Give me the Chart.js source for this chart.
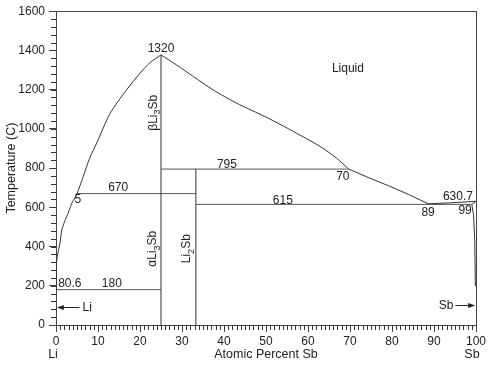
<!DOCTYPE html>
<html>
<head>
<meta charset="utf-8">
<script src="https://cdn.jsdelivr.net/npm/chart.js@4.4.1/dist/chart.umd.min.js"></script>
<style>
  html, body { margin: 0; padding: 0; background: #fff; }
  canvas { display: block; }
</style>
</head>
<body>
<canvas id="c" width="492" height="367"></canvas>
<script>
// ---- Data (atomic % Sb, temperature °C) ----
const xTickValues = [0, 10, 20, 30, 40, 50, 60, 70, 80, 90, 100];
const yTickValues = [0, 200, 400, 600, 800, 1000, 1200, 1400, 1600];
const xMinorStep = 1;
const yMinorStep = 40;

const liquidusLiSide = [[0,180],[0,283],[0.3,350],[0.95,418],[1.4,486],[2.1,530],[2.9,571],[3.8,622],[4.9,664],[6.5,758],[8,850],[9.7,928],[12.9,1080],[16.8,1199],[20,1284],[22.5,1340],[25,1377]];
const liquidusMid = [[25,1377],[28.7,1326],[32.7,1267],[37.4,1199],[43,1131],[50,1060],[56.5,987],[62.9,910],[66.8,851],[69.7,795]];
const liquidusSbSide = [[69.7,795],[74,755],[79.5,707],[84,665],[88.6,618],[94,623],[100,630.7]];
const solidusSb = [[100,630.7],[99,615],[99.4,563],[99.7,435],[99.85,198]];
const li3SbLine = [[25,0],[25,1377]];
const li2SbLine = [[33.3,0],[33.3,795]];
const eutectic180 = [[0,180],[25,180]];
const peritectic670 = [[4.9,670],[33.3,670]];
const peritectic795 = [[25,795],[69.7,795]];
const eutectic615 = [[33.3,615],[99,615]];

const smoothSeries = [liquidusLiSide, liquidusMid];
const straightSeries = [liquidusSbSide, solidusSb, li3SbLine, li2SbLine];
const tieSeries = [eutectic180, peritectic670, peritectic795, eutectic615];

const valueLabels = [
  { text: '1320', x: 25, y: 1408 },
  { text: '795', x: 40.7, y: 817 },
  { text: '670', x: 14.8, y: 700 },
  { text: '5', x: 5.2, y: 639 },
  { text: '70', x: 68.3, y: 756 },
  { text: '615', x: 54, y: 634 },
  { text: '89', x: 88.6, y: 573 },
  { text: '630.7', x: 95.7, y: 654 },
  { text: '99', x: 97.4, y: 583 },
  { text: '80.6', x: 3.3, y: 211 },
  { text: '180', x: 13.3, y: 211 },
  { text: 'Liquid', x: 69.5, y: 1306 }
];
const phaseLabels = [
  { parts: [['βLi',0],['3',1],['Sb',0]], x: 23.3, y: 1082 },
  { parts: [['αLi',0],['3',1],['Sb',0]], x: 23.1, y: 389 },
  { parts: [['Li',0],['2',1],['Sb',0]], x: 31.2, y: 389 }
];
const pureArrows = [
  { text: 'Li', fromX: 5.6, toX: 0.2, y: 90, textX: 6.3, align: 'left' },
  { text: 'Sb', fromX: 95.1, toX: 99.8, y: 104, textX: 94.6, align: 'right' }
];

const FONT = '"Liberation Sans", Arial, Helvetica, sans-serif';
const INK = '#222';
const AXIS = '#444';

const toDataset = (pts, color, tension) => ({
  data: pts.map(p => ({ x: p[0], y: p[1] })),
  showLine: true, borderColor: color, borderWidth: 1,
  pointRadius: 0, tension: tension, fill: false
});

const decorPlugin = {
  id: 'decor',
  afterDraw(chart) {
    const ctx = chart.ctx;
    const xs = chart.scales.x, ys = chart.scales.y;
    const a = chart.chartArea;
    ctx.save();
    ctx.setLineDash([]);
    ctx.globalAlpha = 1;
    // top & right frame
    ctx.fillStyle = AXIS;
    ctx.fillRect(Math.round(a.left), Math.round(a.top), Math.round(a.right - a.left) + 1, 1);
    ctx.fillRect(Math.round(a.right), Math.round(a.top), 1, Math.round(a.bottom - a.top));

    // minor ticks
    ctx.fillStyle = '#333';
    const bottom = Math.round(a.bottom);
    const left = Math.round(a.left);
    for (let v = xMinorStep; v < 100; v += xMinorStep) {
      const px = Math.round(xs.getPixelForValue(v));
      ctx.fillRect(px, bottom, 1, 5);
    }
    for (let v = yMinorStep; v < 1600; v += yMinorStep) {
      const py = Math.round(ys.getPixelForValue(v));
      ctx.fillRect(left - 5, py, 5, 1);
    }

    ctx.fillStyle = INK;
    ctx.strokeStyle = INK;
    ctx.lineWidth = 1;
    ctx.font = '12px ' + FONT;
    ctx.textAlign = 'center';
    ctx.textBaseline = 'middle';
    valueLabels.forEach(l => {
      ctx.fillText(l.text, xs.getPixelForValue(l.x), ys.getPixelForValue(l.y));
    });

    phaseLabels.forEach(l => {
      ctx.save();
      ctx.translate(xs.getPixelForValue(l.x), ys.getPixelForValue(l.y));
      ctx.rotate(-Math.PI / 2);
      let total = 0;
      const widths = l.parts.map(p => {
        ctx.font = (p[1] ? '9px ' : '12px ') + FONT;
        const w = ctx.measureText(p[0]).width;
        total += w;
        return w;
      });
      let cx = -total / 2;
      ctx.textAlign = 'left';
      ctx.textBaseline = 'middle';
      l.parts.forEach((p, i) => {
        ctx.font = (p[1] ? '9px ' : '12px ') + FONT;
        ctx.fillText(p[0], cx, p[1] ? 4 : 0);
        cx += widths[i];
      });
      ctx.restore();
    });

    ctx.font = '12px ' + FONT;
    pureArrows.forEach(ar => {
      const y = Math.round(ys.getPixelForValue(ar.y)) + 0.5;
      const x1 = xs.getPixelForValue(ar.fromX);
      const x2 = xs.getPixelForValue(ar.toX);
      const dir = Math.sign(x2 - x1);
      ctx.beginPath();
      ctx.moveTo(x1, y);
      ctx.lineTo(x2 - dir * 5, y);
      ctx.stroke();
      ctx.beginPath();
      ctx.moveTo(x2, y);
      ctx.lineTo(x2 - dir * 7, y - 2.5);
      ctx.lineTo(x2 - dir * 7, y + 2.5);
      ctx.closePath();
      ctx.fill();
      ctx.textAlign = ar.align;
      ctx.fillText(ar.text, xs.getPixelForValue(ar.textX), y);
    });

    ctx.textAlign = 'center';
    ctx.textBaseline = 'middle';
    ctx.font = '12.5px ' + FONT;
    ctx.fillText('Atomic Percent Sb', (a.left + a.right) / 2, 355);
    ctx.fillText('Li', xs.getPixelForValue(0) - 3, 355);
    ctx.fillText('Sb', xs.getPixelForValue(100) - 4, 355);
    ctx.save();
    ctx.translate(12, (a.top + a.bottom) / 2);
    ctx.rotate(-Math.PI / 2);
    ctx.fillText('Temperature (C)', 0, 0);
    ctx.restore();
    ctx.restore();
  }
};

new Chart(document.getElementById('c'), {
  type: 'scatter',
  data: {
    datasets: [
      ...smoothSeries.map(s => toDataset(s, '#333', 0.25)),
      ...straightSeries.map(s => toDataset(s, '#333', 0)),
      ...tieSeries.map(s => toDataset(s, '#555', 0))
    ]
  },
  options: {
    responsive: false,
    maintainAspectRatio: false,
    animation: false,
    layout: { padding: { top: 11, right: 16, left: 0, bottom: 0 } },
    plugins: { legend: { display: false }, tooltip: { enabled: false } },
    scales: {
      x: {
        type: 'linear', position: 'bottom', min: 0, max: 100,
        afterBuildTicks(s) { s.ticks = xTickValues.map(v => ({ value: v })); },
        ticks: { color: INK, font: { family: FONT, size: 12 }, padding: 2, maxRotation: 0, autoSkip: false,
                 callback: v => String(v) },
        grid: { drawOnChartArea: false, drawTicks: true, tickLength: 7, color: AXIS },
        border: { color: AXIS, width: 1 },
        afterFit(s) { s.height = 42; }
      },
      y: {
        type: 'linear', position: 'left', min: 0, max: 1600,
        afterBuildTicks(s) { s.ticks = yTickValues.map(v => ({ value: v })); },
        ticks: { color: INK, font: { family: FONT, size: 12 }, padding: 4, autoSkip: false,
                 callback: v => String(v) },
        grid: { drawOnChartArea: false, drawTicks: true, tickLength: 7, color: AXIS },
        border: { color: AXIS, width: 1 },
        afterFit(s) { s.width = 56; }
      }
    }
  },
  plugins: [decorPlugin]
});
</script>
</body>
</html>
